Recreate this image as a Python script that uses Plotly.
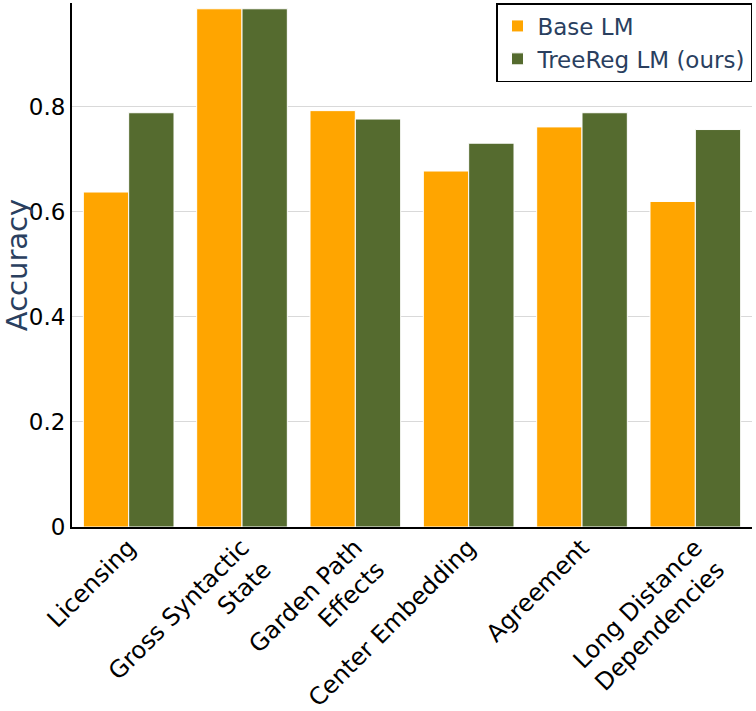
import plotly.graph_objects as go

categorias = ["Licensing", "Gross Syntactic<br>State", "Garden Path<br>Effects",
              "Center Embedding", "Agreement", "Long Distance<br>Dependencies"]
base_lm = [0.638, 0.987, 0.793, 0.678, 0.762, 0.620]
treereg_lm = [0.789, 0.987, 0.777, 0.731, 0.789, 0.757]
y_ticks = [0, 0.2, 0.4, 0.6, 0.8]

fig = go.Figure()
fig.add_trace(go.Bar(
    x=categorias, y=base_lm, name="Base LM",
    marker=dict(color="#FFA500", line=dict(color="white", width=1))
))
fig.add_trace(go.Bar(
    x=categorias, y=treereg_lm, name="TreeReg LM (ours)",
    marker=dict(color="#556B2F", line=dict(color="white", width=1))
))

fig.update_layout(
    width=756, height=711,
    barmode="group", bargap=0.2, bargroupgap=0,
    paper_bgcolor="white", plot_bgcolor="white",
    font=dict(family="DejaVu Sans", color="#2a3f5f"),
    margin=dict(l=72, r=4, t=3, b=184),
    legend=dict(
        x=1, y=1, xanchor="right", yanchor="top",
        bordercolor="black", borderwidth=1.5,
        font=dict(size=23, color="#2a3f5f"),
        bgcolor="white"
    ),
    xaxis=dict(
        tickangle=-45, tickfont=dict(size=24, color="black"),
        showline=True, linecolor="black", linewidth=2,
        showgrid=False, ticks="", automargin=False,
        ticklabelstandoff=-5
    ),
    yaxis=dict(
        title=dict(text="Accuracy", font=dict(size=29, color="#2a3f5f"), standoff=0),
        range=[0, 0.998], tickvals=y_ticks,
        tickfont=dict(size=23, color="black"),
        showline=True, linecolor="black", linewidth=2,
        gridcolor="#d9d9d9", gridwidth=1, zeroline=False, ticks="",
        automargin=False
    ),
)

# la pagina tiene margen por defecto en el body
fig.write_html("out.html", config={"displayModeBar": False},
               post_script="document.body.style.margin='0';")
